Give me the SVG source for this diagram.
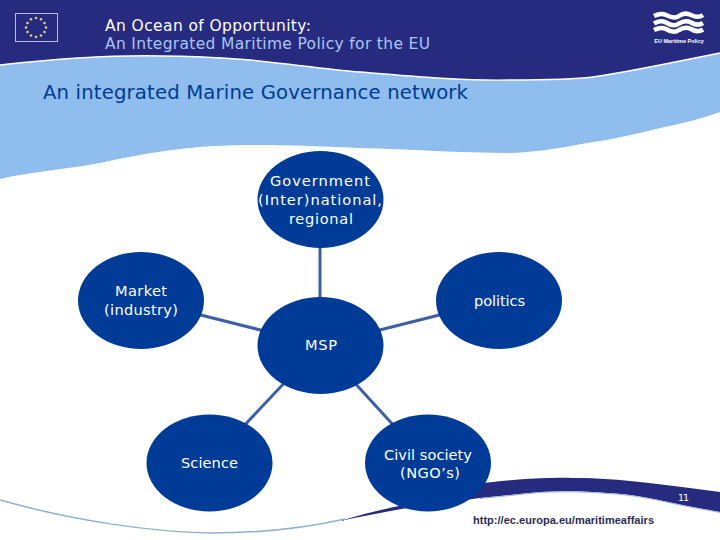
<svg xmlns="http://www.w3.org/2000/svg" width="720" height="540" viewBox="0 0 720 540">
<style>
text{font-family:"DejaVu Sans",Verdana,sans-serif}
.n{fill:#003c97}
.l{fill:#fff;font-size:14.600px;text-anchor:middle}
.c{stroke:#3c5fa5;stroke-width:3;fill:none}
.w{fill:none;stroke:#fff;stroke-width:4.500}
.s{fill:#d9d27a}
.b{font-family:"Liberation Sans",Arial,sans-serif;font-weight:bold}
</style>
<rect width="720" height="540" fill="#fff"/>
<path d="M0 65C55 59 105 55 160 56C195 56 225 58 250 60C290 64 325 69 360 72C410 76 460 81 510 80C540 80 570 80 593 77C620 73 640 69 660 65C680 61 700 57 720 53V112C700 119 680 124 660 128C640 133 615 139 593 142C565 147 540 152 510 153C460 153 410 149 360 148C310 146 250 143 200 147C165 150 130 156 100 163C60 170 30 172 0 179Z" fill="#8fbdee"/>
<path d="M0 0H720V53C700 57 680 61 660 65C640 69 620 73 593 77C570 80 540 80 510 80C460 81 410 76 360 72C325 69 290 64 250 60C225 58 195 56 160 56C105 55 55 59 0 65Z" fill="#272b80"/>
<path d="M0 65C55 59 105 55 160 56C195 56 225 58 250 60C290 64 325 69 360 72C410 76 460 81 510 80C540 80 570 80 593 77C620 73 640 69 660 65C680 61 700 57 720 53" fill="none" stroke="#fff" stroke-width="1.500"/>
<g id="flag">
<rect x="15.500" y="13.500" width="42" height="28" fill="none" stroke="#b9bfe0" stroke-width="1"/>
<circle class="s" cx="36" cy="18" r="1.300"/><circle class="s" cx="41" cy="19.300" r="1.300"/><circle class="s" cx="44.500" cy="23" r="1.300"/><circle class="s" cx="46" cy="27.500" r="1.300"/><circle class="s" cx="44.500" cy="32" r="1.300"/><circle class="s" cx="41" cy="35.500" r="1.300"/><circle class="s" cx="36" cy="37" r="1.300"/><circle class="s" cx="31" cy="35.500" r="1.300"/><circle class="s" cx="27.500" cy="32" r="1.300"/><circle class="s" cx="26" cy="27.500" r="1.300"/><circle class="s" cx="27.500" cy="23" r="1.300"/><circle class="s" cx="31" cy="19.300" r="1.300"/>
</g>
<g id="title">
<text x="105" y="30.500" font-size="15.500" fill="#fff" textLength="206">An Ocean of Opportunity:</text>
<text x="105" y="48.500" font-size="15.500" fill="#a9c6f3" textLength="325">An Integrated Maritime Policy for the EU</text>
</g>
<g id="logo">
<path class="w" d="M654 16C658 14 662 13 666 15C670 17 675 19 679 16C683 13 687 13 691 15C695 17 699 18 703 15"/>
<path class="w" d="M654 23.500C658 21 662 20.500 666 22.500C670 25 675 26.500 679 23.500C683 21 687 20.500 691 22.500C695 25 699 25.500 703 23"/>
<path class="w" d="M654 30C658 28 662 27 666 29C670 31.500 675 33 679 30C683 27.500 687 27 691 29C695 31.500 699 32 703 29.500"/>
<text class="b" x="679" y="42.500" font-size="5.500" fill="#fff" text-anchor="middle">EU Maritime Policy</text>
</g>
<text id="heading" x="43" y="98.500" font-size="19.700" fill="#003c8f" textLength="425">An integrated Marine Governance network</text>
<g id="footer">
<path d="M340 521C362 514 385 509 403 505C430 492 460 485 493 482C520 479 550 477 573 478C600 478 620 480 640 482C670 485 695 489 720 492V512C705 509 690 507 673 503C650 498 630 494 607 493C585 491 560 491 540 492C520 494 500 496 480 498C455 501 430 506 407 508C385 512 362 516 340 521Z" fill="#272b80"/>
<path d="M480 498.500C500 496.500 520 494.500 540 492.500C560 491.500 585 491.500 607 493.500C630 494.500 650 498.500 673 503.500C690 507.500 705 509.500 720 512.500" fill="none" stroke="#9db8dc" stroke-width="1"/>
<path d="M0 500C70 520 150 532 210 533C260 533 310 527 345 519" fill="none" stroke="#8fb1cf" stroke-width="1.500"/>
<text x="683.500" y="501" font-size="9.500" fill="#fff" text-anchor="middle" textLength="11">11</text>
<text class="b" x="563.500" y="524" font-size="11" fill="#2a2d55" text-anchor="middle" textLength="181">http://ec.europa.eu/maritimeaffairs</text>
</g>
<g id="connectors">
<line class="c" x1="320" y1="199" x2="320" y2="345"/>
<line class="c" x1="141" y1="300" x2="320" y2="345"/>
<line class="c" x1="499" y1="300" x2="320" y2="345"/>
<line class="c" x1="209" y1="463" x2="320" y2="345"/>
<line class="c" x1="428" y1="463" x2="320" y2="345"/>
</g>
<g id="government"><ellipse class="n" cx="320.500" cy="199.500" rx="63" ry="48.500"/><text class="l" x="320" y="186" textLength="100">Government</text><text class="l" x="320" y="205" textLength="124">(Inter)national,</text><text class="l" x="321" y="224" textLength="64">regional</text></g>
<g id="market"><ellipse class="n" cx="141" cy="300.500" rx="63" ry="48.500"/><text class="l" x="141" y="296" textLength="52">Market</text><text class="l" x="141" y="315" textLength="74">(industry)</text></g>
<g id="politics"><ellipse class="n" cx="499" cy="300.500" rx="63" ry="48.500"/><text class="l" x="499.500" y="306" textLength="51">politics</text></g>
<g id="msp"><ellipse class="n" cx="320.500" cy="345.500" rx="63" ry="48.500"/><text class="l" x="321" y="350" textLength="32">MSP</text></g>
<g id="science"><ellipse class="n" cx="209.500" cy="463" rx="63" ry="48.500"/><text class="l" x="209.500" y="468" textLength="57">Science</text></g>
<g id="civil"><ellipse class="n" cx="428" cy="463" rx="63" ry="48.500"/><text class="l" x="428" y="460" textLength="88">Civil society</text><text class="l" x="430" y="478" textLength="60">(NGO’s)</text></g>
</svg>
